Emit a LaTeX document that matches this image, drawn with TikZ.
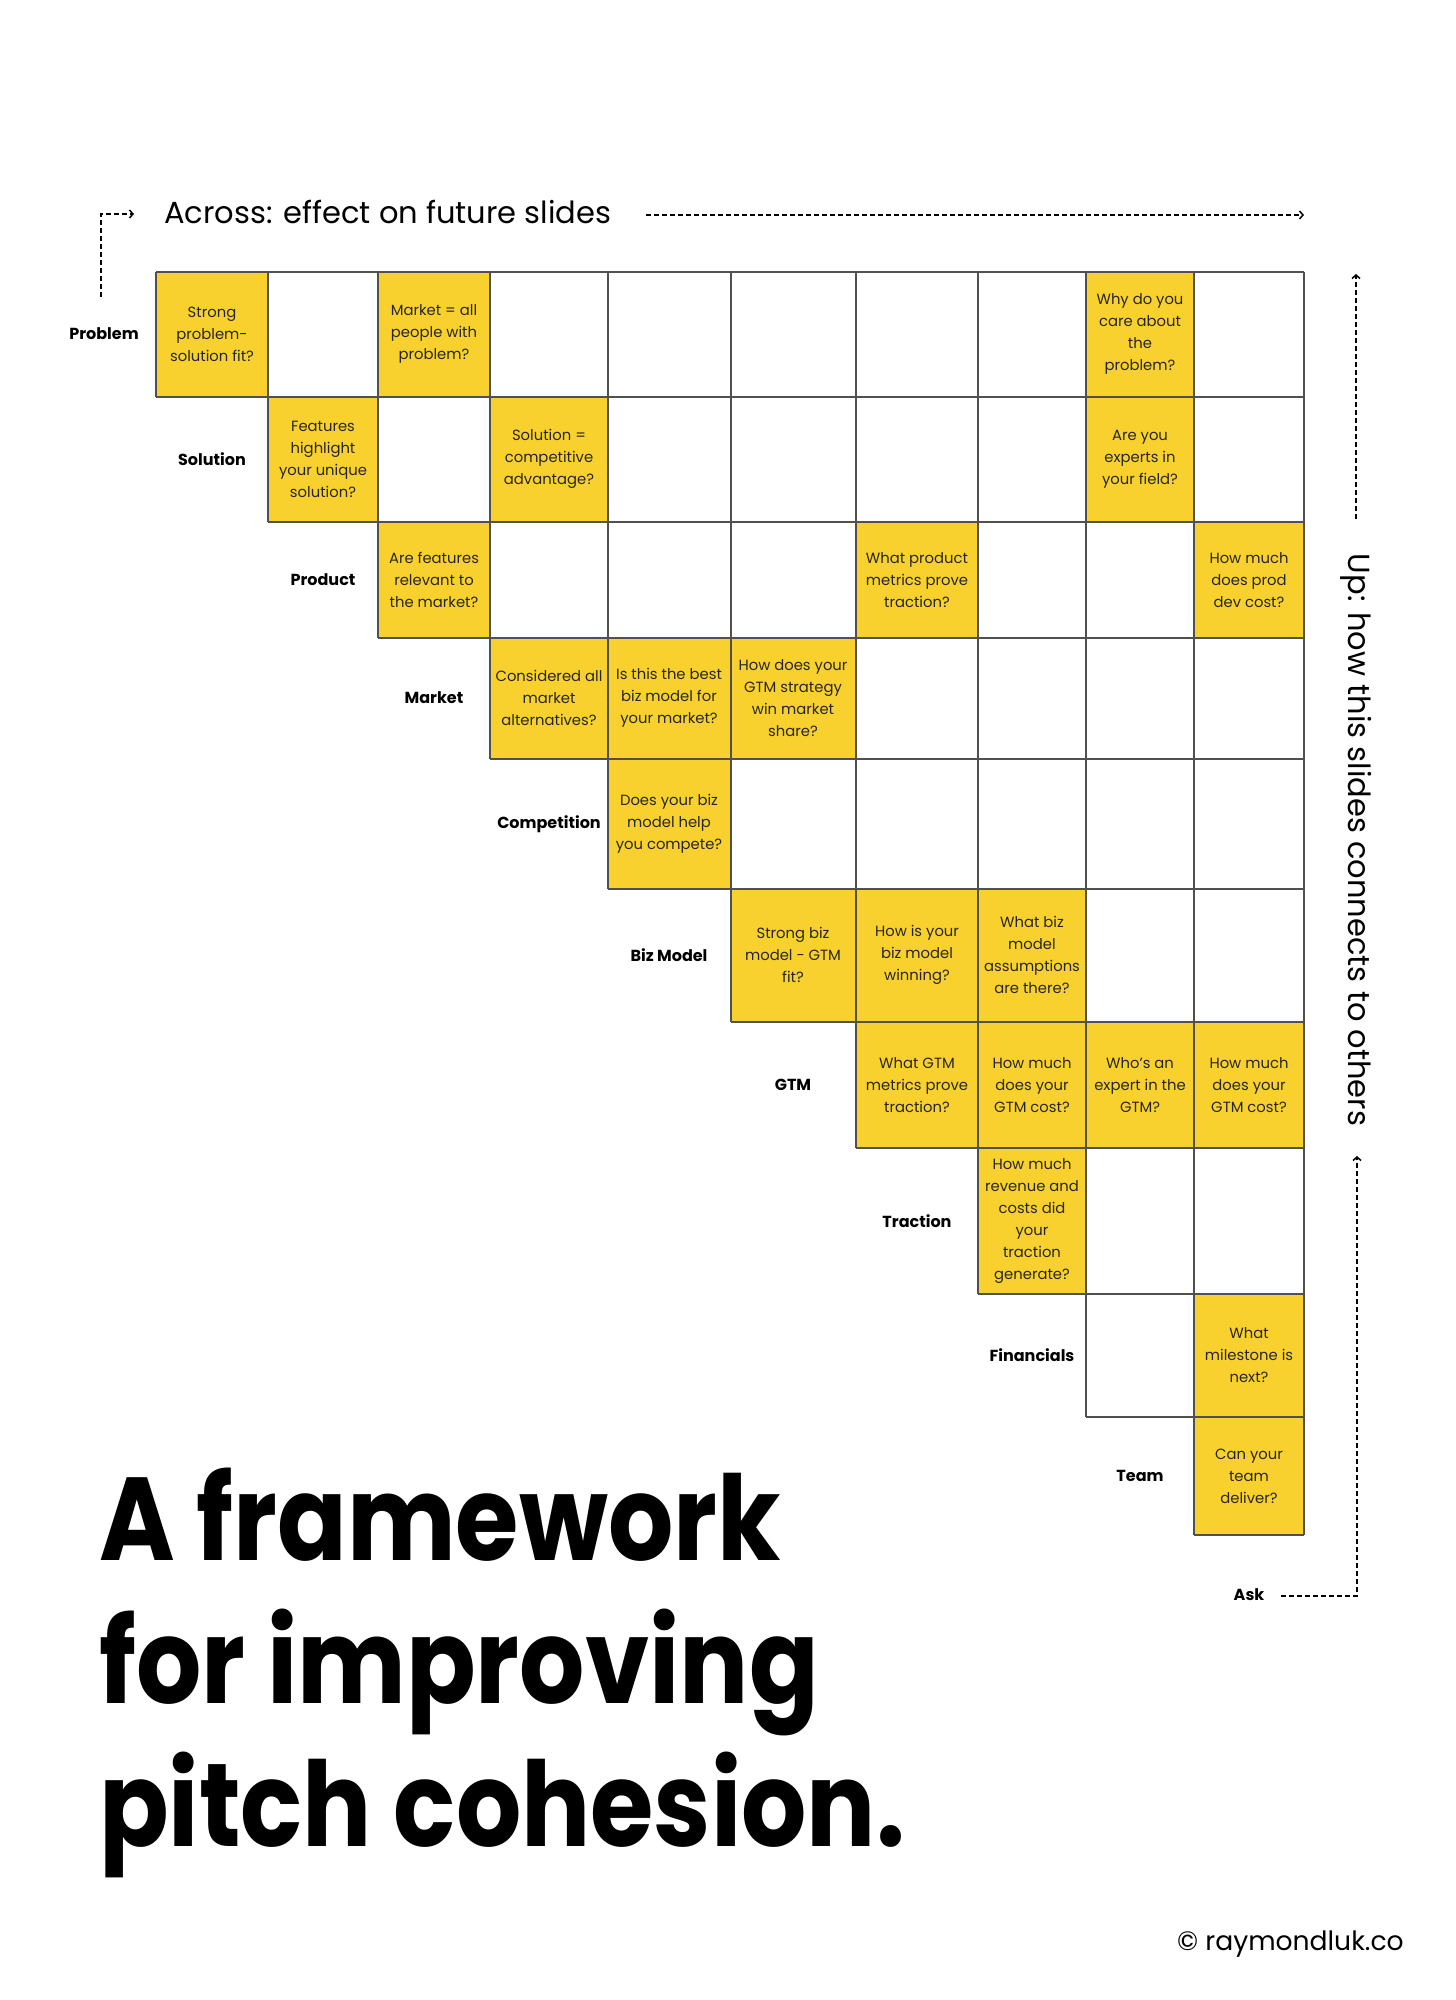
\documentclass[tikz,border=0pt]{standalone}
\usepackage{fontspec}
\usepackage{graphicx}
\setmainfont{Poppins}
\usetikzlibrary{arrows.meta}
\definecolor{pitchyellow}{RGB}{249,209,46}
\definecolor{gridgray}{RGB}{80,80,80}
\newcommand{\narrow}[1]{\scalebox{0.87}[1]{#1}}
\tikzset{
  question/.style={align=center, inner sep=0pt, text=black!85, font=\fontsize{14.8}{22}\selectfont},
  slide/.style={inner sep=0pt, font=\bfseries\fontsize{16}{20}\selectfont},
  hint/.style={inner sep=0pt, font=\fontsize{30.5}{34}\selectfont},
  guide/.style={line width=1.5pt, dash pattern=on 5pt off 3pt},
  tip/.style={-{Straight Barb[length=3.5pt,width=8pt]}}
}
\begin{document}
\begin{tikzpicture}[x=1pt,y=-1pt]
  \useasboundingbox[fill=white] (0,0) rectangle (1456,2000);

  % yellow cells
  \begin{scope}[pitchyellow]
    \fill (156,272) rectangle (268,397);
    \fill (378,272) rectangle (490,397);
    \fill (1086,272) rectangle (1194,397);
    \fill (268,397) rectangle (378,522);
    \fill (490,397) rectangle (608,522);
    \fill (1086,397) rectangle (1194,522);
    \fill (378,522) rectangle (490,638);
    \fill (856,522) rectangle (978,638);
    \fill (1194,522) rectangle (1304,638);
    \fill (490,638) rectangle (608,759);
    \fill (608,638) rectangle (731,759);
    \fill (731,638) rectangle (856,759);
    \fill (608,759) rectangle (731,889);
    \fill (731,889) rectangle (856,1022);
    \fill (856,889) rectangle (978,1022);
    \fill (978,889) rectangle (1086,1022);
    \fill (856,1022) rectangle (978,1148);
    \fill (978,1022) rectangle (1086,1148);
    \fill (1086,1022) rectangle (1194,1148);
    \fill (1194,1022) rectangle (1304,1148);
    \fill (978,1148) rectangle (1086,1294);
    \fill (1194,1294) rectangle (1304,1417);
    \fill (1194,1417) rectangle (1304,1535);
  \end{scope}

  % staircase grid
  \begin{scope}[gridgray, line width=1.6pt]
    \draw (156,272) -- (1304,272);
    \draw (156,397) -- (1304,397);
    \draw (268,522) -- (1304,522);
    \draw (378,638) -- (1304,638);
    \draw (490,759) -- (1304,759);
    \draw (608,889) -- (1304,889);
    \draw (731,1022) -- (1304,1022);
    \draw (856,1148) -- (1304,1148);
    \draw (978,1294) -- (1304,1294);
    \draw (1086,1417) -- (1304,1417);
    \draw (1194,1535) -- (1304,1535);
    \draw (156,272) -- (156,397);
    \draw (268,272) -- (268,522);
    \draw (378,272) -- (378,638);
    \draw (490,272) -- (490,759);
    \draw (608,272) -- (608,889);
    \draw (731,272) -- (731,1022);
    \draw (856,272) -- (856,1148);
    \draw (978,272) -- (978,1294);
    \draw (1086,272) -- (1086,1417);
    \draw (1194,272) -- (1194,1535);
    \draw (1304,272) -- (1304,1535);
  \end{scope}

  % slide names on the diagonal
  \node[slide] (problem) at (104,334) {Problem};
  \node[slide] (solution) at (212,459) {Solution};
  \node[slide] (product) at (323,580) {Product};
  \node[slide] (market) at (434,698) {Market};
  \node[slide] (competition) at (549,824) {Competition};
  \node[slide] (bizmodel) at (669,955) {Biz Model};
  \node[slide] (gtm) at (793,1085) {GTM};
  \node[slide] (traction) at (917,1221) {Traction};
  \node[slide] (financials) at (1032,1355) {Financials};
  \node[slide] (team) at (1140,1476) {Team};
  \node[slide] (ask) at (1249,1595) {Ask};

  % questions
  \node[question] (q-0-0) at (212,334) {Strong\\problem-\\solution fit?};
  \node[question] (q-0-2) at (434,334) {Market = all\\people with\\problem?};
  \node[question] (q-0-8) at (1140,334) {Why do you\\care about\\the\\problem?};
  \node[question] (q-1-1) at (323,459) {Features\\highlight\\your unique\\solution?};
  \node[question] (q-1-3) at (549,459) {Solution =\\competitive\\advantage?};
  \node[question] (q-1-8) at (1140,459) {Are you\\experts in\\your field?};
  \node[question] (q-2-2) at (434,580) {Are features\\relevant to\\the market?};
  \node[question] (q-2-6) at (917,580) {What product\\metrics prove\\traction?};
  \node[question] (q-2-9) at (1249,580) {How much\\does prod\\dev cost?};
  \node[question] (q-3-3) at (549,698) {Considered all\\market\\alternatives?};
  \node[question] (q-3-4) at (669,698) {Is this the best\\biz model for\\your market?};
  \node[question] (q-3-5) at (793,698) {How does your\\GTM strategy\\win market\\share?};
  \node[question] (q-4-4) at (669,824) {Does your biz\\model help\\you compete?};
  \node[question] (q-5-5) at (793,955) {Strong biz\\model - GTM\\fit?};
  \node[question] (q-5-6) at (917,955) {How is your\\biz model\\winning?};
  \node[question] (q-5-7) at (1032,955) {What biz\\model\\assumptions\\are there?};
  \node[question] (q-6-6) at (917,1085) {What GTM\\metrics prove\\traction?};
  \node[question] (q-6-7) at (1032,1085) {How much\\does your\\GTM cost?};
  \node[question] (q-6-8) at (1140,1085) {Who's an\\expert in the\\GTM?};
  \node[question] (q-6-9) at (1249,1085) {How much\\does your\\GTM cost?};
  \node[question] (q-7-7) at (1032,1221) {How much\\revenue and\\costs did\\your\\traction\\generate?};
  \node[question] (q-8-9) at (1249,1355) {What\\milestone is\\next?};
  \node[question] (q-9-9) at (1249,1476) {Can your\\team\\deliver?};

  % reading hints
  \node[hint, anchor=base west] (across) at (164,223) {Across: effect on future slides};
  \node[hint, rotate=-90] (upnote) at (1356,840) {Up: how this slides connects to others};
  \coordinate (corner-s) at (101,297);
  \coordinate (corner-e) at (134,214);
  \coordinate (across-s) at (646,215);
  \coordinate (across-e) at (1304,215);
  \coordinate (up-s) at (1356,519);
  \coordinate (up-e) at (1356,274);
  \coordinate (ask-s) at (1281,1596);
  \coordinate (ask-e) at (1357,1156);
  \draw[guide, tip] (corner-s) |- (corner-e);
  \draw[guide, tip] (across-s) -- (across-e);
  \draw[guide, tip] (up-s) -- (up-e);
  \draw[guide, tip] (ask-s) -| (ask-e);

  % title
  \begin{scope}[every node/.style={anchor=base west, inner sep=0pt, font=\bfseries\fontsize{118}{140}\selectfont}]
    \node (title-1) at (99,1560) {\narrow{A framework}};
    \node (title-2) at (99,1703) {\narrow{for improving}};
    \node (title-3) at (99,1846) {\narrow{pitch cohesion.}};
  \end{scope}

  \node[anchor=base west, inner sep=0pt, font=\fontsize{26.6}{30}\selectfont] (credit) at (1177,1950) {© raymondluk.co};
\end{tikzpicture}
\end{document}
